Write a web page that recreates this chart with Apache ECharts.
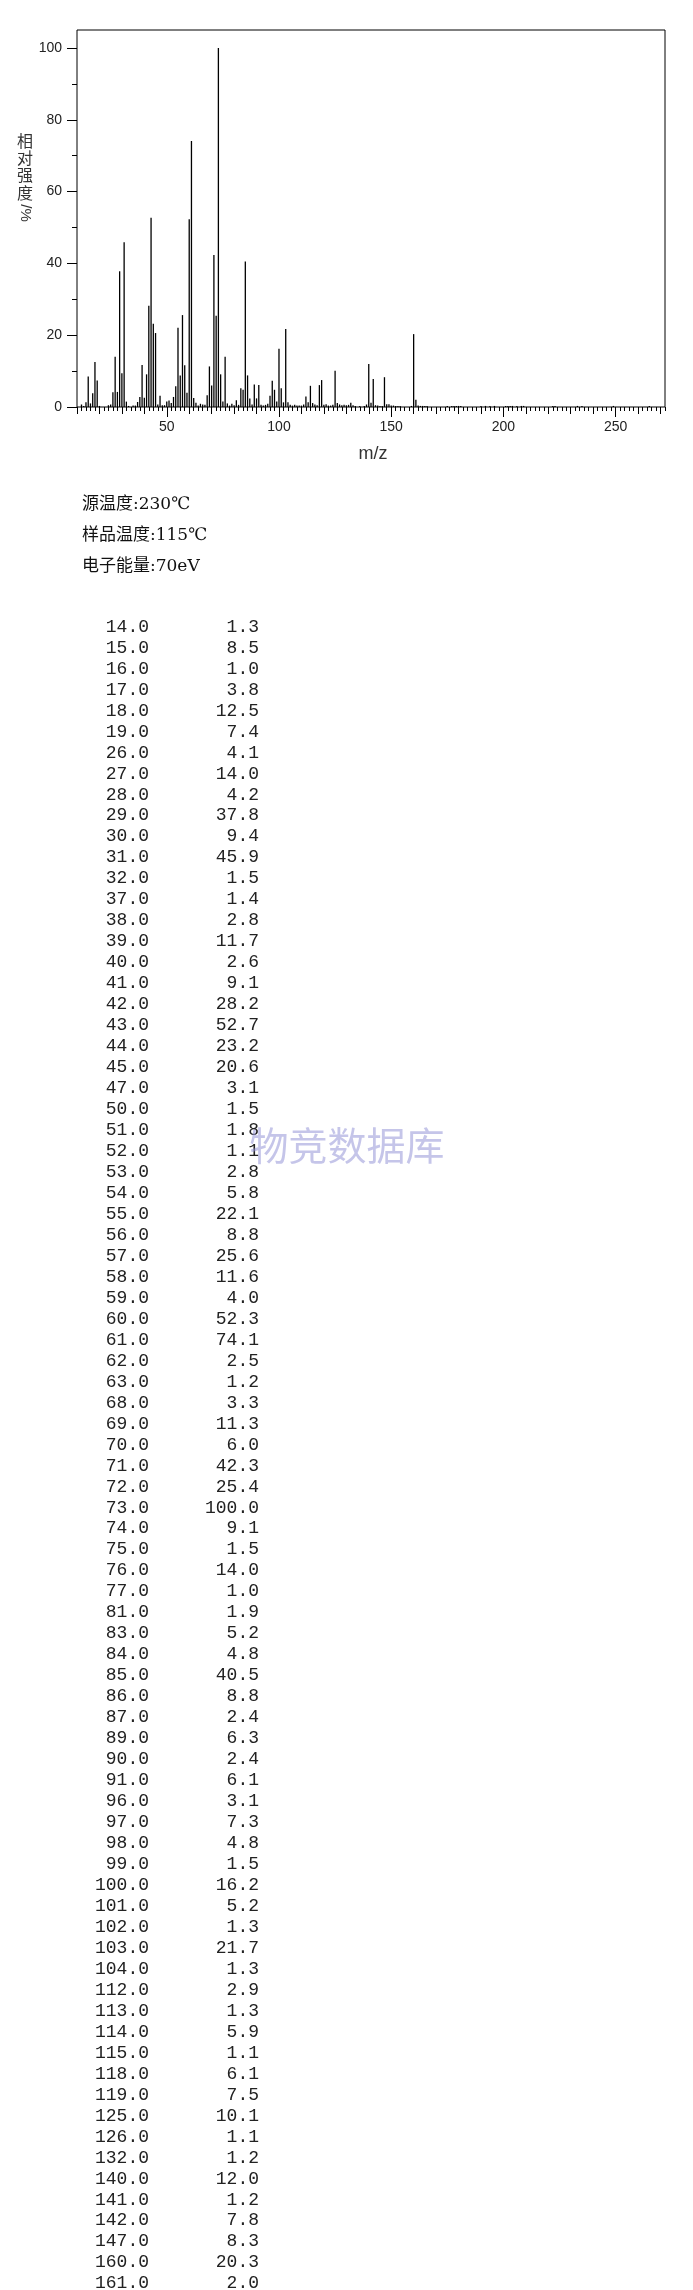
<!DOCTYPE html>
<html><head><meta charset="utf-8">
<script src="https://cdn.jsdelivr.net/npm/echarts@6/dist/echarts.min.js"></script>
<style>html,body{margin:0;padding:0;background:#fff}#c{width:693px;height:2290px}</style>
</head><body><div id="c"></div>
<script>
// Peaks listed in the table (m/z, relative intensity %)
const tableMz = [14,15,16,17,18,19,26,27,28,29,30,31,32,37,38,39,40,41,42,43,44,45,47,50,51,52,53,54,55,56,57,58,59,60,61,62,63,68,69,70,71,72,73,74,75,76,77,81,83,84,85,86,87,89,90,91,96,97,98,99,100,101,102,103,104,112,113,114,115,118,119,125,126,132,140,141,142,147,160,161];
const tableInt = [1.3,8.5,1.0,3.8,12.5,7.4,4.1,14.0,4.2,37.8,9.4,45.9,1.5,1.4,2.8,11.7,2.6,9.1,28.2,52.7,23.2,20.6,3.1,1.5,1.8,1.1,2.8,5.8,22.1,8.8,25.6,11.6,4.0,52.3,74.1,2.5,1.2,3.3,11.3,6.0,42.3,25.4,100.0,9.1,1.5,14.0,1.0,1.9,5.2,4.8,40.5,8.8,2.4,6.3,2.4,6.1,3.1,7.3,4.8,1.5,16.2,5.2,1.3,21.7,1.3,2.9,1.3,5.9,1.1,6.1,7.5,10.1,1.1,1.2,12.0,1.2,7.8,8.3,20.3,2.0];
// Small peaks visible only in the plot (estimated)
const smallMz = [12,13,20,24,25,33,35,36,46,48,49,64,65,66,67,78,79,80,82,88,92,93,94,95,105,106,107,108,109,110,111,116,117,120,121,122,123,124,127,128,129,130,131,133,134,136,138,139,143,144,145,146,148,149,150,151,152,153,154,159,162,163,164,165,166,175,177,178,179,180,181,190,192,194,196,201,202,203,204,206,208,209,222,223,233,235,249,265];
const smallInt = [0.7,0.3,0.3,0.5,0.7,0.3,0.4,0.4,0.7,0.5,0.5,0.4,0.9,0.7,0.6,0.4,0.9,0.5,0.6,0.7,0.6,0.4,0.6,0.9,0.6,0.4,0.6,0.4,0.4,0.4,0.7,0.7,0.5,0.6,0.8,0.4,0.4,0.6,0.7,0.5,0.6,0.5,0.6,0.5,0.3,0.3,0.3,0.7,0.5,0.4,0.3,0.3,0.8,0.8,0.4,0.4,0.3,0.3,0.3,0.3,0.4,0.3,0.3,0.3,0.3,0.3,0.3,0.3,0.3,0.3,0.3,0.3,0.3,0.3,0.3,0.3,0.3,0.3,0.3,0.3,0.3,0.3,0.3,0.3,0.3,0.3,0.3,0.3];
const yLabelVals = [0,20,40,60,80,100];
const yMinorVals = [10,30,50,70,90];
const xLabelVals = [50,100,150,200,250];
const infoLines = ['源温度:230℃','样品温度:115℃','电子能量:70eV'];
const yTitle = '相\n对\n强\n度';
const watermark = '物竞数据库';

const xMid = []; for (let v = 10; v <= 270; v += 10) xMid.push(v);
const xSmall = []; for (let v = 10; v <= 272; v += 2) xSmall.push(v);

const peaks = [];
tableMz.forEach((m,i)=>peaks.push([m, tableInt[i]]));
smallMz.forEach((m,i)=>peaks.push([m, smallInt[i]]));
peaks.sort((a,b)=>a[0]-b[0]);

const chart = echarts.init(document.getElementById('c'), null, {renderer:'canvas'});
const gridBox = {left:77, top:30, width:588, height:377};
const labelFont = {fontFamily:'Liberation Sans, Arial, sans-serif', fontSize:14, color:'#222'};
function xAx(ticks, len, labels){
  return {type:'value', min:10, max:272, gridIndex:0, position:'bottom',
    axisLine:{show:false}, splitLine:{show:false},
    axisTick:{show:true, customValues:ticks, length:len, lineStyle:{color:'#000', width:1}},
    axisLabel: labels ? Object.assign({show:true, customValues:labels, margin:13}, labelFont) : {show:false}};
}
function yAx(ticks, len, labels){
  return {type:'value', min:0, max:105, gridIndex:0, position:'left',
    axisLine:{show:false}, splitLine:{show:false},
    axisTick:{show:true, customValues:ticks, length:len, lineStyle:{color:'#000', width:1}},
    axisLabel: labels ? Object.assign({show:true, customValues:labels, margin:15}, labelFont) : {show:false}};
}

const graphics = [];
// y title (stacked characters)
graphics.push({type:'text', x:25, y:132,
  style:{text:yTitle, fontFamily:'Noto Sans CJK SC', fontSize:16, lineHeight:17.3, fill:'#333', align:'center', verticalAlign:'top'}});
graphics.push({type:'text', x:25, y:213, rotation:-Math.PI/2,
  style:{text:'/%', fontFamily:'Liberation Sans', fontSize:15, fill:'#333', align:'center', verticalAlign:'middle'}});
// x title
graphics.push({type:'text', x:373, y:454, style:{text:'m/z', fontFamily:'Liberation Sans', fontSize:18, fill:'#333', align:'center', verticalAlign:'middle'}});
// info lines
infoLines.forEach((t,i)=>graphics.push({type:'text', x:82, y:505 + i*31,
  style:{text:t, fontFamily:'"DejaVu Serif", "Noto Sans CJK SC"', fontSize:17, fill:'#111', verticalAlign:'middle'}}));
// table
tableMz.forEach((m,i)=>{
  const y = 627 + i*20.97;
  graphics.push({type:'text', x:149, y:y, style:{text:m.toFixed(1), fontFamily:'Liberation Mono', fontSize:18, fill:'#222', align:'right', verticalAlign:'middle'}});
  graphics.push({type:'text', x:259, y:y, style:{text:tableInt[i].toFixed(1), fontFamily:'Liberation Mono', fontSize:18, fill:'#222', align:'right', verticalAlign:'middle'}});
});
// watermark
graphics.push({type:'text', x:347, y:1145, z:100, style:{text:watermark, fontFamily:'Noto Sans CJK SC', fontSize:39, fill:'rgba(150,150,215,0.55)', align:'center', verticalAlign:'middle'}});

chart.setOption({
  animation:false,
  backgroundColor:'#fff',
  grid:[Object.assign({show:true, borderColor:'#000', borderWidth:1, backgroundColor:'transparent'}, gridBox)],
  xAxis:[xAx(xLabelVals,10,xLabelVals), xAx(xMid,7,null), xAx(xSmall,4,null)],
  yAxis:[yAx(yLabelVals,10,yLabelVals), yAx(yMinorVals,5,null)],
  series:[{type:'bar', xAxisIndex:0, yAxisIndex:0, data:peaks, barWidth:1.3, itemStyle:{color:'#000'}, silent:true}],
  graphic:graphics
});
</script></body></html>
